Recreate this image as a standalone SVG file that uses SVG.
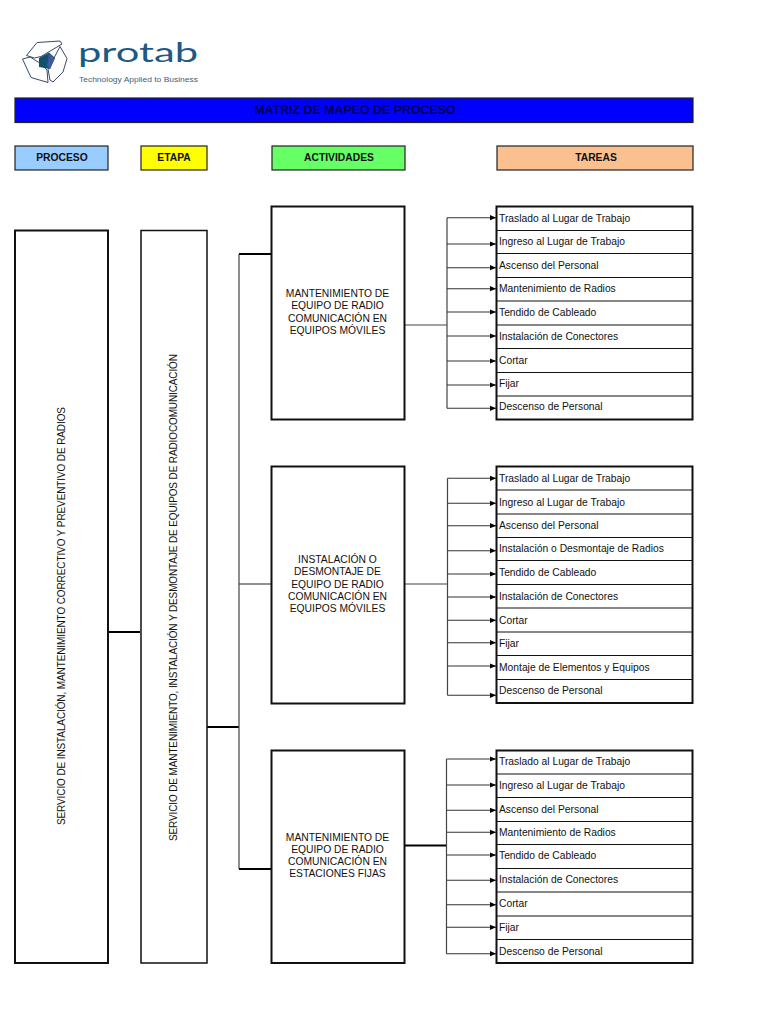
<svg xmlns="http://www.w3.org/2000/svg" width="768" height="1024" viewBox="0 0 768 1024">
<style>
text{font-family:"Liberation Sans",Arial,sans-serif;fill:#111}
.h{font-size:10.300px;font-weight:bold;text-anchor:middle}
.b{stroke:#111;stroke-width:2;fill:#fff}
.hb{stroke:#222;stroke-width:1.2}
.t{font-size:10.300px}
.a{font-size:10.300px;text-anchor:middle}
.v{font-size:10px;text-anchor:middle}
.c{fill:none;stroke:#444;stroke-width:1.2}
.k{fill:none;stroke:#000;stroke-width:2}
.ar{fill:none;stroke:#333;stroke-width:1.1;marker-end:url(#ah)}
.lg{fill:none;stroke:#3a4a66;stroke-width:1;stroke-linejoin:round}
</style>
<defs><marker id="ah" markerUnits="userSpaceOnUse" markerWidth="7" markerHeight="6" refX="6" refY="3" orient="auto"><path d="M0 0.4L6 3L0 5.6Z" fill="#000"/></marker></defs>
<g id="logo">
<path class="lg" d="M26.500 55.500L37 42.500L60 41L62 44L41 56.500L34.500 58Z"/>
<path class="lg" d="M22.500 59L31 77.500L48 82.500L47 70L39 62.500L30 57Z"/>
<path class="lg" d="M60 46.500L67 58.500L63 72L53 82L50 80L48 69L54 58Z"/>
<path d="M39 58L49 52.500L55 58L50 69L39 67Z" fill="#12506f"/>
<path d="M49 53L55 58L50 69L47 66Z" fill="#3d5a9c"/>
<text x="78" y="62" font-size="26" textLength="120" lengthAdjust="spacingAndGlyphs" style="fill:#1b5a85;font-family:Lato,'Liberation Sans',sans-serif">protab</text>
<text x="79" y="82" font-size="8" textLength="119" lengthAdjust="spacingAndGlyphs" style="fill:#3d5f7a">Technology Applied to Business</text>
</g>
<g id="titulo"><rect x="15" y="98" width="678" height="24.500" fill="#0000ff" class="hb"/><text class="h" x="355" y="114" style="font-size:12.400px;fill:#000050">MATRIZ DE MAPEO DE PROCESO</text></g>
<g id="h-proceso"><rect x="15" y="146" width="93" height="24" fill="#99ccff" class="hb"/><text class="h" x="62" y="161">PROCESO</text></g>
<g id="h-etapa"><rect x="141" y="146" width="66" height="24" fill="#ffff00" class="hb"/><text class="h" x="174" y="161">ETAPA</text></g>
<g id="h-actividades"><rect x="272" y="146" width="133" height="24" fill="#66ff66" class="hb"/><text class="h" x="339" y="161">ACTIVIDADES</text></g>
<g id="h-tareas"><rect x="497" y="146" width="196" height="24" fill="#fac090" class="hb"/><text class="h" x="596" y="161">TAREAS</text></g>

<g id="connectors">
<path class="k" d="M108 632H140"/>
<path class="k" d="M207 727H239"/>
<path class="c" d="M239 254V869"/>
<path class="k" d="M239 254H271"/>
<path class="c" d="M239 584H271"/>
<path class="k" d="M239 869H271"/>
<path class="c" d="M405 325H447"/>
<path class="c" d="M405 584H447.500"/>
<path class="k" d="M405 845.500H447"/>
<path class="c" d="M447 217.700V408.300"/>
<path class="ar" d="M447 217.700H496"/><path class="ar" d="M447 244H496"/><path class="ar" d="M447 267.700H496"/><path class="ar" d="M447 288.700H496"/><path class="ar" d="M447 312H496"/><path class="ar" d="M447 336H496"/><path class="ar" d="M447 361H496"/><path class="ar" d="M447 385H496"/><path class="ar" d="M447 408.300H496"/>
<path class="c" d="M447.500 478.300V695.300"/>
<path class="ar" d="M447.500 478.300H496"/><path class="ar" d="M447.500 503.300H496"/><path class="ar" d="M447.500 525.700H496"/><path class="ar" d="M447.500 550.700H496"/><path class="ar" d="M447.500 574H496"/><path class="ar" d="M447.500 597H496"/><path class="ar" d="M447.500 620.300H496"/><path class="ar" d="M447.500 642.700H496"/><path class="ar" d="M447.500 666H496"/><path class="ar" d="M447.500 695.300H496"/>
<path class="c" d="M446.500 759V953.700"/>
<path class="ar" d="M446.500 759H496"/><path class="ar" d="M446.500 785H496"/><path class="ar" d="M446.500 810.300H496"/><path class="ar" d="M446.500 832.300H496"/><path class="ar" d="M446.500 855H496"/><path class="ar" d="M446.500 880.300H496"/><path class="ar" d="M446.500 904.700H496"/><path class="ar" d="M446.500 927.300H496"/><path class="ar" d="M446.500 953.700H496"/>
</g>

<g id="proceso"><rect class="b" x="15" y="230.500" width="93" height="732.500"/><text class="v" transform="translate(65 616) rotate(-90)" textLength="418" lengthAdjust="spacing">SERVICIO DE INSTALACIÓN, MANTENIMIENTO CORRECTIVO Y PREVENTIVO DE RADIOS</text></g>
<g id="etapa"><rect class="b" x="141" y="230.500" width="66" height="732.500" style="stroke-width:1.500"/><text class="v" transform="translate(177 597.500) rotate(-90)" textLength="487" lengthAdjust="spacing">SERVICIO DE MANTENIMIENTO, INSTALACIÓN Y DESMONTAJE DE EQUIPOS DE RADIOCOMUNICACIÓN</text></g>

<g id="actividad-1"><rect class="b" x="271.500" y="206.500" width="133" height="213"/>
<text class="a" x="337.500" y="297">MANTENIMIENTO DE</text><text class="a" x="337.500" y="309">EQUIPO DE RADIO</text><text class="a" x="337.500" y="322">COMUNICACIÓN EN</text><text class="a" x="337.500" y="334">EQUIPOS MÓVILES</text></g>
<g id="actividad-2"><rect class="b" x="271.500" y="466.500" width="133" height="237"/>
<text class="a" x="337.500" y="563">INSTALACIÓN O</text><text class="a" x="337.500" y="575">DESMONTAJE DE</text><text class="a" x="337.500" y="588">EQUIPO DE RADIO</text><text class="a" x="337.500" y="600">COMUNICACIÓN EN</text><text class="a" x="337.500" y="612">EQUIPOS MÓVILES</text></g>
<g id="actividad-3"><rect class="b" x="271.500" y="750.500" width="133" height="212.500"/>
<text class="a" x="337.500" y="841">MANTENIMIENTO DE</text><text class="a" x="337.500" y="853">EQUIPO DE RADIO</text><text class="a" x="337.500" y="865">COMUNICACIÓN EN</text><text class="a" x="337.500" y="877">ESTACIONES FIJAS</text></g>

<g id="tareas-1"><rect class="b" x="496.500" y="206.500" width="196" height="213"/>
<path class="c" d="M497 230.500H692M497 253.500H692M497 277.500H692M497 301H692M497 325H692M497 348.500H692M497 372.500H692M497 396H692" style="stroke:#111"/>
<text class="t" x="499" y="222">Traslado al Lugar de Trabajo</text><text class="t" x="499" y="245">Ingreso al Lugar de Trabajo</text><text class="t" x="499" y="269">Ascenso del Personal</text><text class="t" x="499" y="292">Mantenimiento de Radios</text><text class="t" x="499" y="316">Tendido de Cableado</text><text class="t" x="499" y="340">Instalación de Conectores</text><text class="t" x="499" y="364">Cortar</text><text class="t" x="499" y="387">Fijar</text><text class="t" x="499" y="410">Descenso de Personal</text></g>
<g id="tareas-2"><rect class="b" x="496.500" y="466.500" width="196" height="236.500"/>
<path class="c" d="M497 490H692M497 514H692M497 537.500H692M497 560.500H692M497 584.500H692M497 608H692M497 632H692M497 655.500H692M497 679.500H692" style="stroke:#111"/>
<text class="t" x="499" y="482">Traslado al Lugar de Trabajo</text><text class="t" x="499" y="506">Ingreso al Lugar de Trabajo</text><text class="t" x="499" y="529">Ascenso del Personal</text><text class="t" x="499" y="552">Instalación o Desmontaje de Radios</text><text class="t" x="499" y="576">Tendido de Cableado</text><text class="t" x="499" y="600">Instalación de Conectores</text><text class="t" x="499" y="624">Cortar</text><text class="t" x="499" y="647">Fijar</text><text class="t" x="499" y="671">Montaje de Elementos y Equipos</text><text class="t" x="499" y="694">Descenso de Personal</text></g>
<g id="tareas-3"><rect class="b" x="496.500" y="750.500" width="196" height="212.500"/>
<path class="c" d="M497 774H692M497 797.500H692M497 821.500H692M497 844.500H692M497 868.500H692M497 892H692M497 916H692M497 939.500H692" style="stroke:#111"/>
<text class="t" x="499" y="765">Traslado al Lugar de Trabajo</text><text class="t" x="499" y="789">Ingreso al Lugar de Trabajo</text><text class="t" x="499" y="813">Ascenso del Personal</text><text class="t" x="499" y="836">Mantenimiento de Radios</text><text class="t" x="499" y="859">Tendido de Cableado</text><text class="t" x="499" y="883">Instalación de Conectores</text><text class="t" x="499" y="907">Cortar</text><text class="t" x="499" y="931">Fijar</text><text class="t" x="499" y="955">Descenso de Personal</text></g>
</svg>
